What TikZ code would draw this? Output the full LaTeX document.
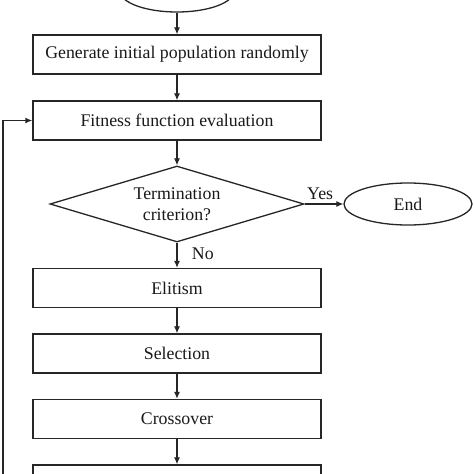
\documentclass[tikz,border=0pt]{standalone}
\usepackage{fontspec}
\setmainfont{Liberation Serif}
\usetikzlibrary{shapes.geometric,arrows.meta}
\begin{document}
\begin{tikzpicture}[x=1pt,y=-1pt,
  every node/.style={font=\fontsize{17.8}{21}\selectfont, text=black!90},
  procbox/.style={draw=black!85, line width=1.3pt, minimum width=288pt, minimum height=39pt, inner sep=0pt},
  termnode/.style={draw=black!85, line width=1.3pt, ellipse, inner sep=0pt},
  decnode/.style={draw=black!85, line width=1.3pt, diamond, minimum width=254pt, minimum height=76pt, inner sep=0pt, shape aspect=3.3, align=center},
  flow/.style={draw=black!85, line width=1.2pt, -{Latex[length=7pt,width=6pt]}},
  lbl/.style={font=\fontsize{17.8}{21}\selectfont}
]
\useasboundingbox (0,0) rectangle (474,474);
\clip (0,0) rectangle (474,474);
\fill[white] (0,0) rectangle (474,474);

\node[termnode, minimum width=114pt, minimum height=42pt] (start) at (177,-9) {};
\node[procbox] (gen) at (177,54.5) {Generate initial population randomly};
\node[procbox] (fit) at (177,120.5) {Fitness function evaluation};
\node[decnode] (term) at (177,204) {Termination\\criterion?};
\node[termnode, minimum width=128pt, minimum height=42pt] (end) at (408,204) {End};
\node[procbox] (elit) at (177,288) {Elitism};
\node[procbox] (sel) at (177,353.5) {Selection};
\node[procbox] (cross) at (177,419) {Crossover};
\node[procbox] (mut) at (177,484.5) {};
\coordinate (fb) at (3,490);

\draw[flow] (start) -- (gen);
\draw[flow] (gen) -- (fit);
\draw[flow] (fit) -- (term);
\draw[flow] (term.east) -- node[lbl, above, pos=0.4, yshift=0pt] {Yes} (end.west);
\draw[flow] (term.south) -- node[lbl, right, pos=0.45, xshift=11pt] {No} (elit.north);
\draw[flow] (elit) -- (sel);
\draw[flow] (sel) -- (cross);
\draw[flow] (cross) -- (mut);
\draw[flow, line width=1.8pt] (fb) -- (fb |- fit.west) -- (fit.west);
\end{tikzpicture}
\end{document}
